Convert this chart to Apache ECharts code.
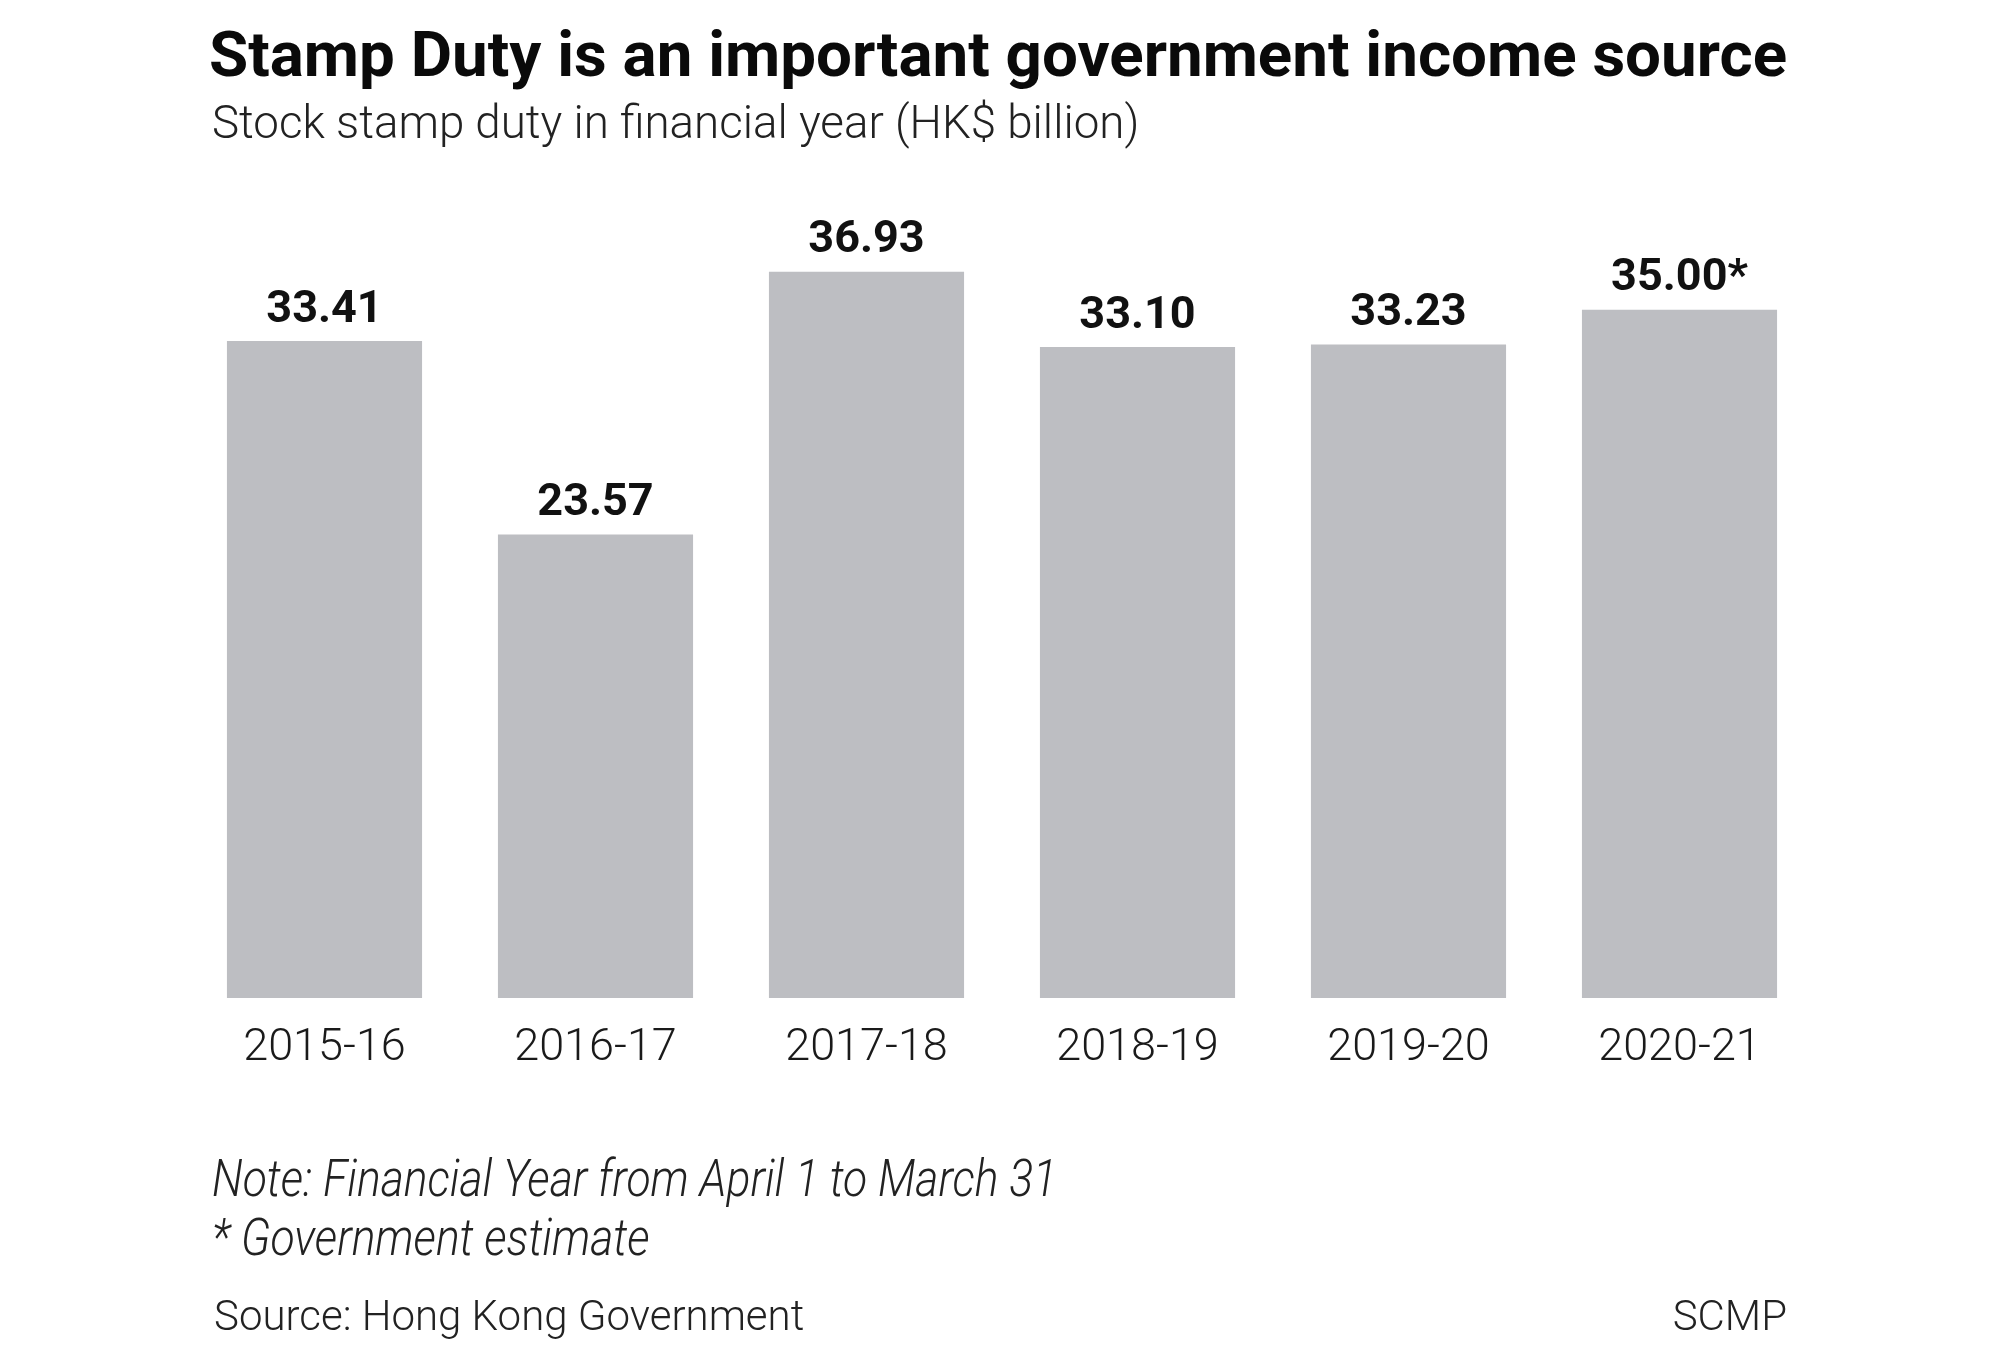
<!DOCTYPE html>
<html>
<head>
<meta charset="utf-8">
<script src="https://cdn.jsdelivr.net/npm/echarts@6/dist/echarts.min.js"></script>
<style>
html,body{margin:0;padding:0;background:#fff;}
#chart{width:1999px;height:1363px;}
</style>
</head>
<body>
<div id="chart"></div>
<script>
const categories = ['2015-16', '2016-17', '2017-18', '2018-19', '2019-20', '2020-21'];
const values = [33.41, 23.57, 36.93, 33.10, 33.23, 35.00];
const valueLabels = ['33.41', '23.57', '36.93', '33.10', '33.23', '35.00*'];

const titleText = 'Stamp Duty is an important government income source';
const subtitleText = 'Stock stamp duty in financial year (HK$ billion)';
const noteLines = ['Note: Financial Year from April 1 to March 31', '* Government estimate'];
const sourceText = 'Source: Hong Kong Government';
const creditText = 'SCMP';

const chart = echarts.init(document.getElementById('chart'), null, {renderer: 'canvas'});

function txt(x, y, text, font, opts) {
  opts = opts || {};
  return {
    type: 'text', x: x, y: y, scaleX: opts.scaleX || 1, scaleY: 1,
    style: {
      x: 0, y: 0, text: text, font: font,
      fill: opts.fill || '#111',
      align: opts.align || 'left', verticalAlign: 'middle'
    }
  };
}

chart.setOption({
  backgroundColor: '#ffffff',
  animation: false,
  grid: {left: 189, right: 184, top: 211.3, bottom: 365, containLabel: false},
  xAxis: {
    type: 'category', data: categories,
    axisLine: {show: false}, axisTick: {show: false},
    axisLabel: {fontFamily: 'Roboto', fontWeight: 300, fontSize: 45, color: '#1a1a1a', margin: 28}
  },
  yAxis: {
    type: 'value', min: 0, max: 40, show: false,
    splitLine: {show: false}
  },
  series: [{
    type: 'bar', data: values, barCategoryGap: '28%',
    itemStyle: {color: '#bdbec2'},
    label: {
      show: true, position: 'top', distance: 8,
      fontFamily: 'Roboto', fontWeight: 'bold', fontSize: 45, color: '#111',
      formatter: function (p) { return valueLabels[p.dataIndex]; }
    }
  }],
  graphic: [
    txt(209, 60, titleText, 'bold 63.7px Roboto', {fill: '#0a0a0a'}),
    txt(212, 127, subtitleText, '300 45.7px Roboto', {fill: '#222'}),
    txt(212, 1183, noteLines[0], 'italic 300 52px Roboto', {fill: '#222', scaleX: 0.855}),
    txt(212, 1242, noteLines[1], 'italic 300 52px Roboto', {fill: '#222', scaleX: 0.855}),
    txt(214, 1319, sourceText, '300 42px Roboto', {fill: '#222'}),
    txt(1787, 1319, creditText, '300 42px Roboto', {fill: '#222', align: 'right'})
  ]
});
</script>
</body>
</html>
